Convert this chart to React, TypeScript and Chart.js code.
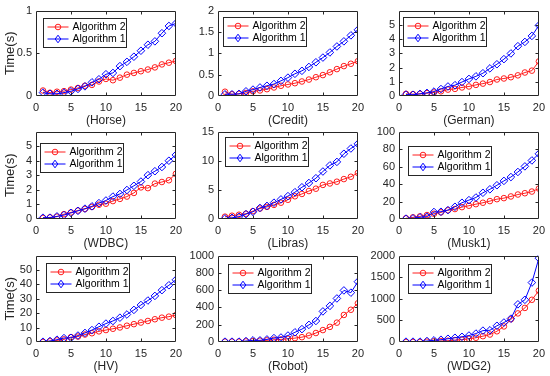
import React, { useEffect, useRef } from 'react';
import { Chart, registerables } from 'chart.js';

Chart.register(...registerables);

const xValues = [1, 2, 3, 4, 5, 6, 7, 8, 9, 10, 11, 12, 13, 14, 15, 16, 17, 18, 19, 20];
const seriesLabels = ['Algorithm 2', 'Algorithm 1'];

const horseAlg2 = [0.064, 0.038, 0.05, 0.057, 0.075, 0.094, 0.12, 0.13, 0.17, 0.2, 0.185, 0.215, 0.25, 0.27, 0.29, 0.31, 0.335, 0.37, 0.39, 0.41];
const horseAlg1 = [0.04, 0.026, 0.026, 0.04, 0.055, 0.083, 0.113, 0.16, 0.196, 0.255, 0.27, 0.35, 0.4, 0.46, 0.53, 0.6, 0.64, 0.735, 0.82, 0.85];
const creditAlg2 = [0.1, 0.04, 0.05, 0.07, 0.11, 0.13, 0.16, 0.2, 0.24, 0.27, 0.3, 0.34, 0.385, 0.44, 0.49, 0.555, 0.63, 0.7, 0.755, 0.815];
const creditAlg1 = [0.04, 0.04, 0.05, 0.11, 0.15, 0.2, 0.24, 0.28, 0.355, 0.43, 0.52, 0.59, 0.68, 0.79, 0.9, 1.02, 1.16, 1.28, 1.42, 1.55];
const germanAlg2 = [0.15, 0.13, 0.15, 0.2, 0.25, 0.33, 0.45, 0.5, 0.6, 0.67, 0.78, 0.87, 0.98, 1.16, 1.23, 1.32, 1.45, 1.65, 1.78, 2.43];
const germanAlg1 = [0.1, 0.09, 0.15, 0.22, 0.31, 0.49, 0.67, 0.76, 0.98, 1.2, 1.38, 1.6, 1.94, 2.23, 2.59, 2.99, 3.5, 3.8, 4.22, 4.96];
const wdbcAlg2 = [0.07, 0.11, 0.16, 0.33, 0.45, 0.58, 0.69, 0.83, 0.98, 1.05, 1.23, 1.38, 1.54, 1.79, 2.17, 2.12, 2.43, 2.54, 2.66, 3.1];
const wdbcAlg1 = [0.09, 0.09, 0.18, 0.27, 0.42, 0.56, 0.71, 0.87, 1.09, 1.27, 1.54, 1.72, 1.99, 2.28, 2.57, 3.01, 3.28, 3.57, 4.0, 4.4];
const librasAlg2 = [0.4, 0.56, 0.73, 0.9, 1.35, 1.8, 2.08, 2.42, 2.8, 3.3, 3.9, 4.3, 4.8, 5.2, 5.85, 6.1, 6.4, 6.85, 7.25, 7.9];
const librasAlg1 = [0.1, 0.2, 0.4, 0.84, 1.24, 1.9, 2.25, 2.8, 3.37, 3.93, 4.6, 5.45, 6.18, 7.0, 8.15, 9.2, 9.8, 11.2, 12.1, 12.9];
const musk1Alg2 = [0.8, 1.9, 3, 4.5, 6, 7.6, 10, 11.4, 13.6, 15.2, 17, 18.6, 20.5, 22.7, 23.9, 25.8, 28, 29.5, 31.4, 34.8];
const musk1Alg1 = [0.4, 0.8, 1.9, 2.7, 8, 8.3, 10.2, 14, 18.6, 21.6, 24.6, 30, 34, 38.6, 43.6, 48, 53.8, 60.2, 67, 74.6];
const hvAlg2 = [0, 0.5, 1.1, 1.8, 3.4, 3.8, 5.2, 6.1, 7.4, 8.3, 9.2, 10.1, 11.3, 12.4, 13.5, 14.6, 15.8, 16.9, 17.6, 18.7];
const hvAlg1 = [0.2, 0.7, 1.6, 2.7, 2.9, 4.5, 6.3, 8.3, 10.6, 12.8, 14.6, 16.9, 19.1, 22.3, 25.7, 28.8, 32, 36, 39.4, 43.2];
const robotAlg2 = [4, 4, 4, 7, 11, 15, 19, 26, 30, 37, 45, 56, 75, 104, 138, 175, 224, 313, 373, 448];
const robotAlg1 = [4, 4, 4, 11, 19, 19, 30, 45, 52, 75, 112, 149, 198, 243, 354, 418, 504, 597, 571, 698];
const wdg2Alg2 = [0, 0, 0, 8, 15, 23, 30, 45, 53, 75, 98, 135, 173, 248, 361, 526, 662, 789, 977, 1188];
const wdg2Alg1 = [8, 8, 8, 23, 38, 53, 75, 98, 120, 150, 195, 263, 271, 376, 451, 541, 872, 977, 1376, 1940];

const panelTitles = ['(Horse)', '(Credit)', '(German)', '(WDBC)', '(Libras)', '(Musk1)', '(HV)', '(Robot)', '(WDG2)'];
const panelAlg2 = [horseAlg2, creditAlg2, germanAlg2, wdbcAlg2, librasAlg2, musk1Alg2, hvAlg2, robotAlg2, wdg2Alg2];
const panelAlg1 = [horseAlg1, creditAlg1, germanAlg1, wdbcAlg1, librasAlg1, musk1Alg1, hvAlg1, robotAlg1, wdg2Alg1];
const yMaxes = [1, 2, 6, 6, 15, 100, 60, 1000, 2000];
const ySteps = [0.5, 0.5, 1, 1, 5, 20, 10, 200, 500];
const yHiddenTop = [false, false, true, true, false, false, true, false, false];
const xTickLabels = ['0', '5', '10', '15', '20'];

// layout (pixels)
const colLefts = [36, 218, 399];
const rowTops = [7, 128, 252];
const plotW = 143;
const rowHeights = [89, 91, 90];
const legendOffsets = [[7, 7], [5, 6], [4, 6], [4, 11], [7, 5], [9, 14], [10, 7], [10, 8], [9, 8]];

const RED = 'rgb(255,30,30)';
const BLUE = 'rgb(0,0,255)';
const AXIS = '#262626';
const FONT = "'Liberation Sans', Arial, Helvetica, sans-serif";

const matlabPlugin = {
  id: 'matlabBox',
  afterDraw(chart: any, _args: any, opts: any) {
    const { ctx, chartArea: a } = chart;
    const xs = chart.scales.x;
    const ys = chart.scales.y;
    const L = Math.round(a.left) + 0.5;
    const T = Math.round(a.top) + 0.5;
    const R = Math.round(a.right) - 0.5;
    const B = Math.round(a.bottom) - 0.5;
    ctx.save();
    ctx.strokeStyle = AXIS;
    ctx.lineWidth = 1;
    ctx.beginPath();
    ctx.rect(L, T, R - L, B - T);
    ctx.stroke();
    const tl = 3;
    ctx.beginPath();
    xs.ticks.forEach((t: any) => {
      const p = Math.round(xs.getPixelForValue(t.value)) + 0.5;
      if (p <= L + 1 || p >= R - 1) return;
      ctx.moveTo(p, B);
      ctx.lineTo(p, B - tl);
      ctx.moveTo(p, T);
      ctx.lineTo(p, T + tl);
    });
    ys.ticks.forEach((t: any) => {
      const p = Math.round(ys.getPixelForValue(t.value)) + 0.5;
      if (p <= T + 1 || p >= B - 1) return;
      ctx.moveTo(L, p);
      ctx.lineTo(L + tl, p);
      ctx.moveTo(R, p);
      ctx.lineTo(R - tl, p);
    });
    ctx.stroke();

    // legend
    const lx = Math.round(a.left + opts.dx) + 0.5;
    const ly = Math.round(a.top + opts.dy) + 0.5;
    const w = 83;
    const h = 29;
    ctx.fillStyle = '#ffffff';
    ctx.fillRect(lx, ly, w, h);
    ctx.strokeStyle = AXIS;
    ctx.strokeRect(lx, ly, w, h);
    const rows = [
      { label: seriesLabels[0], color: RED, shape: 'circle' },
      { label: seriesLabels[1], color: BLUE, shape: 'diamond' },
    ];
    rows.forEach((r, i) => {
      const y = ly + 8.5 + i * 12;
      ctx.strokeStyle = r.color;
      ctx.lineWidth = 1;
      ctx.beginPath();
      ctx.moveTo(lx + 4, y);
      ctx.lineTo(lx + 25, y);
      ctx.stroke();
      const cx = lx + 14.5;
      ctx.beginPath();
      if (r.shape === 'circle') {
        ctx.arc(cx, y, 2.8, 0, Math.PI * 2);
      } else {
        ctx.moveTo(cx, y - 3.8);
        ctx.lineTo(cx + 2.8, y);
        ctx.lineTo(cx, y + 3.8);
        ctx.lineTo(cx - 2.8, y);
        ctx.closePath();
      }
      ctx.stroke();
      ctx.fillStyle = '#000';
      ctx.font = `10.5px ${FONT}`;
      ctx.textBaseline = 'middle';
      ctx.textAlign = 'left';
      ctx.fillText(r.label, lx + 29, y + 0.5);
    });
    ctx.restore();
  },
};

function Panel({ idx }: { idx: number }) {
  const ref = useRef<HTMLCanvasElement | null>(null);
  const col = idx % 3;
  const row = Math.floor(idx / 3);
  const plotH = rowHeights[row];
  const yAxisW = 36;
  const padTop = 7;
  const padRight = 8;
  const xAxisH = 31;
  const cw = yAxisW + plotW + padRight;
  const chH = padTop + plotH + xAxisH;
  const left = colLefts[col] - yAxisW;
  const top = rowTops[row] - padTop;

  useEffect(() => {
    const canvas = ref.current;
    if (!canvas) return;
    const mk = (data: number[]) => xValues.map((x, i) => ({ x, y: data[i] }));
    const chart = new Chart(canvas, {
      type: 'line',
      data: {
        datasets: [
          {
            label: seriesLabels[1],
            data: mk(panelAlg1[idx]),
            borderColor: BLUE,
            backgroundColor: 'rgba(0,0,0,0)',
            borderWidth: 1,
            pointStyle: 'rectRot',
            pointRadius: 3.8,
            pointBorderWidth: 1,
            pointBorderColor: BLUE,
            pointBackgroundColor: 'rgba(0,0,0,0)',
            tension: 0,
          },
          {
            label: seriesLabels[0],
            data: mk(panelAlg2[idx]),
            borderColor: RED,
            backgroundColor: 'rgba(0,0,0,0)',
            borderWidth: 1,
            pointStyle: 'circle',
            pointRadius: 2.8,
            pointBorderWidth: 1,
            pointBorderColor: RED,
            pointBackgroundColor: 'rgba(0,0,0,0)',
            tension: 0,
          },
        ],
      },
      options: {
        responsive: false,
        animation: false,
        devicePixelRatio: 1,
        layout: { padding: { top: padTop, right: padRight, left: 0, bottom: 0 } },
        plugins: {
          legend: { display: false },
          tooltip: { enabled: false },
          matlabBox: { dx: legendOffsets[idx][0], dy: legendOffsets[idx][1] },
        } as any,
        scales: {
          x: {
            type: 'linear',
            min: 0,
            max: 20,
            grid: { display: false, drawTicks: false },
            border: { display: false },
            ticks: {
              stepSize: 5,
              padding: 5,
              autoSkip: false,
              color: AXIS,
              font: { family: FONT, size: 11 },
              maxRotation: 0,
              callback: (v: any) => xTickLabels[Math.round(Number(v) / 5)] ?? '',
            },
            title: {
              display: true,
              text: panelTitles[idx],
              color: AXIS,
              padding: 0,
              font: { family: FONT, size: 12, lineHeight: 1 },
            },
            afterFit: (s: any) => {
              s.height = xAxisH;
            },
          },
          y: {
            type: 'linear',
            min: 0,
            max: yMaxes[idx],
            grid: { display: false, drawTicks: false },
            border: { display: false },
            ticks: {
              stepSize: ySteps[idx],
              padding: 4,
              autoSkip: false,
              color: AXIS,
              font: { family: FONT, size: 11 },
              callback: (v: any) => {
                const n = Number(v);
                if (yHiddenTop[idx] && Math.abs(n - yMaxes[idx]) < 1e-9) return '';
                return String(Math.round(n * 100) / 100);
              },
            },
            title: {
              display: col === 0,
              text: 'Time(s)',
              color: AXIS,
              padding: { top: 4, bottom: 0 },
              font: { family: FONT, size: 13, lineHeight: 1 },
            },
            afterFit: (s: any) => {
              s.width = yAxisW;
            },
          },
        },
      },
      plugins: [matlabPlugin],
    } as any);
    return () => chart.destroy();
  }, [idx]);

  return (
    <canvas
      ref={ref}
      width={cw}
      height={chH}
      style={{ position: 'absolute', left, top, width: cw, height: chH }}
    />
  );
}

export default function App() {
  return (
    <div
      style={{
        position: 'absolute',
        left: 0,
        top: 0,
        width: 550,
        height: 376,
        background: '#ffffff',
        overflow: 'hidden',
      }}
    >
      {panelTitles.map((_, i) => (
        <Panel key={i} idx={i} />
      ))}
    </div>
  );
}
